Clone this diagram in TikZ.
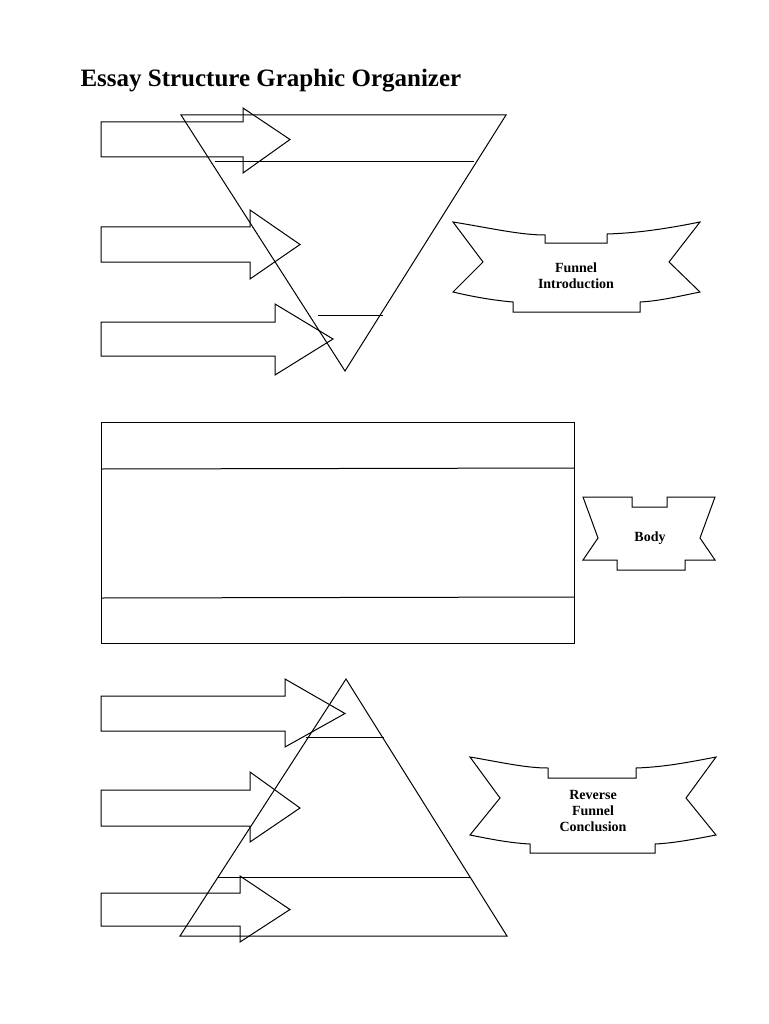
\documentclass[tikz,border=0pt]{standalone}
\usepackage{fontspec}
\setmainfont{Liberation Serif}
\begin{document}
\begin{tikzpicture}[x=1pt,y=-1pt,line width=1pt,
  ln/.style={draw=black},
  lab/.style={font=\bfseries\fontsize{14}{16}\selectfont,align=center}]
\useasboundingbox (0,0) rectangle (768,1024);
\node[anchor=base west,font=\bfseries\fontsize{25}{28}\selectfont,inner sep=0] (title) at (80,87) {Essay Structure Graphic Organizer};
% arrows: body x0,x1, y top,bottom, head top,bottom, tip x
\foreach \n/\a/\b/\c/\d/\e/\f/\t in {a1/101/243/122/157/108/173/290, a2/101/250/227/262/210/279/300, a3/101/275/322/356/304/375/333,
  a4/101/285/696/731/679/747/345, a5/101/250/790/826/772/842/300, a6/101/240/893/926/876/942/290}{
  \draw[ln] (\a,\c) -- (\b,\c) -- (\b,\e) -- (\t,{(\c+\d)/2}) -- (\b,\f) -- (\b,\d) -- (\a,\d) -- cycle;
}
% inverted triangle
\coordinate (t1) at (181,115); \coordinate (t2) at (506,115); \coordinate (t3) at (345,371);
\draw[ln] (t1) -- (t2) -- (t3) -- cycle;
\draw[ln] (215,162) -- (474,162);
\draw[ln] (318,315) -- (383,315);
% rectangle
\draw[ln] (101,422) rectangle (574,643);
\draw[ln] (101,469) -- (574,468);
\draw[ln] (101,598) -- (574,597);
% triangle
\coordinate (u1) at (346,679); \coordinate (u2) at (180,936); \coordinate (u3) at (507,936);
\draw[ln] (u1) -- (u2) -- (u3) -- cycle;
\draw[ln] (306,737) -- (384,737);
\draw[ln] (218,877) -- (470,877);
% ribbon 1
\draw[ln] (453,222) .. controls (490,228) and (520,235) .. (545,235) -- (545,243) -- (607,243) -- (607,234)
  .. controls (640,233) and (670,228) .. (700,222) -- (669,262) -- (700,292)
  .. controls (680,296) and (660,301) .. (640,302) -- (640,312) -- (513,312) -- (513,302)
  .. controls (490,300) and (470,296) .. (453,292) -- (483,262) -- cycle;
\node[lab] (r1) at (576,276) {Funnel\\Introduction};
% ribbon body
\draw[ln] (583,497) -- (632,497) -- (632,507) -- (667,507) -- (667,497) -- (715,497) -- (700,538) -- (715,560)
  -- (685,560) -- (685,570) -- (617,570) -- (617,560) -- (583,560) -- (598,538) -- cycle;
\node[lab] (r2) at (650,538) {Body};
% ribbon 3
\draw[ln] (470,757) .. controls (500,762) and (525,768) .. (548,768) -- (548,778) -- (636,778) -- (636,768)
  .. controls (665,767) and (690,762) .. (716,757) -- (686,798) -- (716,835)
  .. controls (695,839) and (675,843) .. (655,844) -- (655,853) -- (530,853) -- (530,844)
  .. controls (510,843) and (490,839) .. (470,835) -- (500,798) -- cycle;
\node[lab] (r3) at (593,811) {Reverse\\Funnel\\Conclusion};
\end{tikzpicture}
\end{document}
